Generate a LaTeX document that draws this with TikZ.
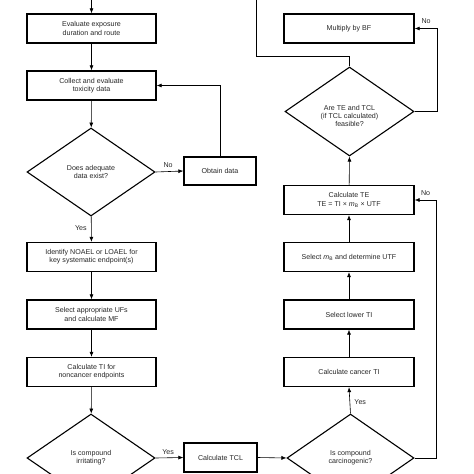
\documentclass[tikz,border=0pt]{standalone}
\usepackage{fontspec}
\setmainfont{Liberation Sans}
\usetikzlibrary{shapes.geometric,arrows.meta}
\newcommand{\mBsym}{{\itshape m}\textsubscript{B}}
\begin{document}
\begin{tikzpicture}[x=1pt,y=-1pt,
  txt/.style={font=\fontsize{7.1}{8.2}\selectfont, text=black!85},
  box/.style={txt,draw,line width=1.3pt,minimum width=129pt,minimum height=29pt,inner sep=0pt,align=center},
  dec/.style={txt,draw,diamond,line width=1.1pt,minimum width=128pt,minimum height=88pt,inner sep=0pt,aspect=1.45,align=center},
  conn/.style={line width=0.6pt,-{Latex[length=5pt,width=4pt]}},
  plain/.style={line width=0.6pt},
  lbl/.style={txt}]
\useasboundingbox (0,0) rectangle (474,474);
\clip (0,0) rectangle (474,474);
% left column
\node[box] (b1) at (91.5,28.5) {Evaluate exposure\\duration and route};
\node[box] (b2) at (91.5,85.5) {Collect and evaluate\\toxicity data};
\node[dec] (d1) at (91,172) {Does adequate\\data exist?};
\node[box,minimum width=72pt,minimum height=28pt] (od) at (220,171) {Obtain data};
\node[box] (b3) at (91.5,257) {Identify NOAEL or LOAEL for\\key systematic endpoint(s)};
\node[box] (b4) at (91.5,314.5) {Select appropriate UFs\\and calculate MF};
\node[box] (b5) at (91.5,372) {Calculate TI for\\noncancer endpoints};
\node[dec] (d2) at (91,458) {Is compound\\irritating?};
\node[box,minimum width=73pt] (tcl) at (220.5,457.5) {Calculate TCL};
\node[dec,minimum width=127pt] (d3) at (350.5,458) {Is compound\\carcinogenic?};
% right column
\node[box,minimum width=130pt] (r1) at (349,372) {Calculate cancer TI};
\node[box,minimum width=130pt] (r2) at (349,314.5) {Select lower TI};
\node[box,minimum width=130pt] (r3) at (349,257) {Select \mBsym{} and determine UTF};
\node[box,minimum width=130pt] (r4) at (349,200) {Calculate TE\\TE = TI × \mBsym{} × UTF};
\node[dec,minimum width=129pt,minimum height=89pt] (d4) at (349.5,111.5) {\\[6pt]Are TE and TCL\\(if TCL calculated)\\feasible?};
\node[box,minimum width=130pt] (mb) at (349,28.5) {Multiply by BF};
% connectors
\coordinate (top1) at (91.5,0);
\coordinate (top2) at (256,0);
\draw[conn] (top1) -- (b1);
\draw[conn] (b1) -- (b2);
\draw[conn] (b2) -- (d1);
\draw[conn] (d1) -- node[lbl,pos=0.45,left=1pt]{Yes} (b3);
\draw[conn] (b3) -- (b4);
\draw[conn] (b4) -- (b5);
\draw[conn] (b5) -- (d2);
\draw[conn] (d1.east) -- node[lbl,above=0pt,pos=0.45]{No} (od.west);
\draw[conn] (od.north) |- (b2.east);
\draw[conn] (d2.east) -- node[lbl,above=0pt,pos=0.45]{Yes} (tcl.west);
\draw[conn] (tcl.east) -- (d3.west);
\draw[conn] (d3.north) -- node[lbl,pos=0.45,right=1pt]{Yes} (r1.south);
\draw[conn] (r1) -- (r2);
\draw[conn] (r2) -- (r3);
\draw[conn] (r3) -- (r4);
\draw[conn] (r4) -- (d4.south);
\draw[conn] (d3.east) -- ++(22,0) |- node[lbl,pos=0.75,above=1pt]{No} (r4.east);
\draw[conn] (d4.east) -- ++(23,0) |- node[lbl,pos=0.75,above=1pt]{No} (mb.east);
\draw[plain] (d4.north) -- ++(0,-10) -| (top2);
\end{tikzpicture}
\end{document}
